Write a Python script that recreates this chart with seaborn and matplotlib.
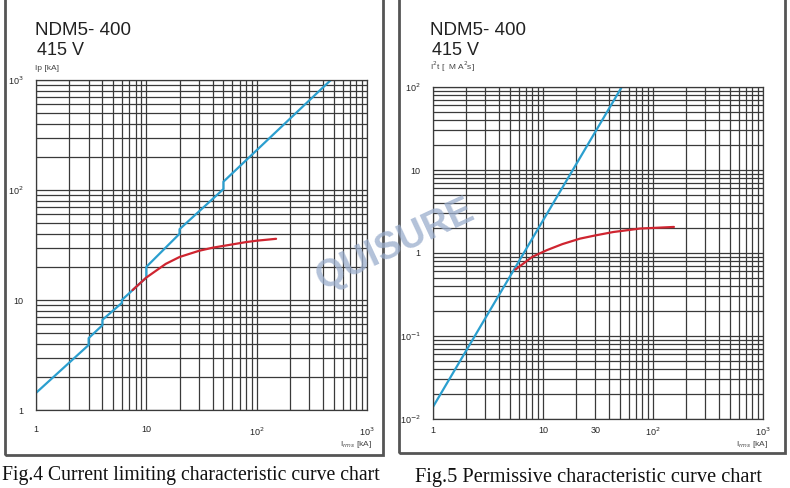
import numpy as np
import seaborn as sns
import matplotlib.pyplot as plt
from matplotlib.patches import Rectangle

# Fig.4 current limiting: Ip [kA] vs Irms [kA]
ip_x = [1, 3, 3, 4, 4, 6, 6, 10, 10, 20, 20, 50, 50, 470]
ip_y = [1.43, 3.9, 4.5, 5.9, 6.6, 9.4, 10.0, 16, 20, 40, 44, 102, 119, 1000]
ip_lim_x = [7.5, 10, 15, 20, 30, 40, 60, 80, 100, 150]
ip_lim_y = [12.3, 16.0, 21.3, 24.6, 28, 29.9, 32, 33.6, 34.6, 36]

# Fig.5 permissive: I2t [MA2s] vs Irms [kA]
i2t_x = [1, 52]
i2t_y = [0.014, 100]
i2t_lim_x = [5.6, 8, 10.8, 15, 21.7, 30, 43.6, 76, 155]
i2t_lim_y = [0.63, 0.9, 1.08, 1.28, 1.49, 1.63, 1.79, 1.97, 2.06]

left_xticks = [1, 10, 100, 1000]
left_xlabels = ['1', '10', '10$^2$', '10$^3$']
left_yticks = [1, 10, 100, 1000]
left_ylabels = ['1', '10', '10$^2$', '10$^3$']
right_xticks = [1, 10, 30, 100, 1000]
right_xlabels = ['1', '10', '30', '10$^2$', '10$^3$']
right_yticks = [0.01, 0.1, 1, 10, 100]
right_ylabels = ['10$^{-2}$', '10$^{-1}$', '1', '10', '10$^2$']

sns.set_style("white")
plt.rcParams['font.family'] = ['Liberation Sans', 'DejaVu Sans']

BLUE = '#2b9fcf'
RED = '#cf2530'
GRID = '#3a3a3a'

fig = plt.figure(figsize=(7.9, 4.88), dpi=100)


def setup_axes(ax, xlim, ylim, xticks, xlabels, yticks, ylabels, xpad):
    ax.set_xscale('log')
    ax.set_yscale('log')
    ax.set_xlim(*xlim)
    ax.set_ylim(*ylim)
    ax.set_xticks(xticks)
    ax.set_xticklabels(xlabels)
    ax.set_yticks(yticks)
    ax.set_yticklabels(ylabels)
    ax.minorticks_on()
    ax.grid(True, which='both', color=GRID, linewidth=0.9)
    ax.tick_params(which='major', length=3, width=0.8, color=GRID, labelsize=6.5, pad=6)
    ax.tick_params(axis='x', which='major', pad=xpad)
    ax.tick_params(which='minor', length=0)
    ax.xaxis.set_minor_formatter(plt.NullFormatter())
    ax.yaxis.set_minor_formatter(plt.NullFormatter())
    for s in ax.spines.values():
        s.set_color(GRID)
        s.set_linewidth(0.9)
    ax.set_xlabel('')
    ax.set_ylabel('')


# left chart
ax1 = fig.add_axes([36 / 790, 1 - 410 / 488, 331 / 790, 330 / 488])
sns.lineplot(x=ip_x, y=ip_y, sort=False, estimator=None, color=BLUE, linewidth=1.6, ax=ax1)
sns.lineplot(x=ip_lim_x, y=ip_lim_y, sort=False, estimator=None, color=RED, linewidth=1.6, ax=ax1)
setup_axes(ax1, (1, 1000), (1, 1000), left_xticks, left_xlabels, left_yticks, left_ylabels, 8)

# right chart
ax2 = fig.add_axes([433 / 790, 1 - 419 / 488, 330 / 790, 332 / 488])
sns.lineplot(x=i2t_x, y=i2t_y, sort=False, estimator=None, color=BLUE, linewidth=1.6, ax=ax2)
sns.lineplot(x=i2t_lim_x, y=i2t_lim_y, sort=False, estimator=None, color=RED, linewidth=1.6, ax=ax2)
setup_axes(ax2, (1, 1000), (0.01, 100), right_xticks, right_xlabels, right_yticks, right_ylabels, 2)

# panel frames
for x0, x1, y1 in [(5, 383, 455), (399, 785, 453)]:
    fig.add_artist(Rectangle((x0 / 790, 1 - y1 / 488), (x1 - x0) / 790, y1 / 488 + 0.05,
                             transform=fig.transFigure, fill=False, edgecolor='#555555', linewidth=2))

# headings
for x, lab in [(35, 'Ip [kA]'), (430, 'I$^2$t [  M A$^2$s]')]:
    fig.text(x / 790, 1 - 35 / 488, 'NDM5- 400', fontsize=13.5, color='#222222')
    fig.text((x + 2) / 790, 1 - 55 / 488, '415 V', fontsize=13, color='#222222')
    fig.text(x / 790, 1 - 70 / 488, lab, fontsize=6, color='#444444')

fig.text(372 / 790, 1 - 446 / 488, 'I$_{rms}$ [kA]', fontsize=6, color='#444444', ha='right')
fig.text(768 / 790, 1 - 446 / 488, 'I$_{rms}$ [kA]', fontsize=6, color='#444444', ha='right')

# captions
fig.text(2 / 790, 1 - 480 / 488, 'Fig.4 Current limiting characteristic curve chart',
         fontsize=14.2, family='Liberation Serif', color='#111111')
fig.text(415 / 790, 1 - 482 / 488, 'Fig.5 Permissive characteristic curve chart',
         fontsize=14.7, family='Liberation Serif', color='#111111')

# watermark
fig.text(395 / 790, 1 - 245 / 488, 'QUISURE', fontsize=27, fontweight='bold', color='#9aadcc',
         alpha=0.75, rotation=25, ha='center', va='center')

fig.savefig('out.png', dpi=100)
